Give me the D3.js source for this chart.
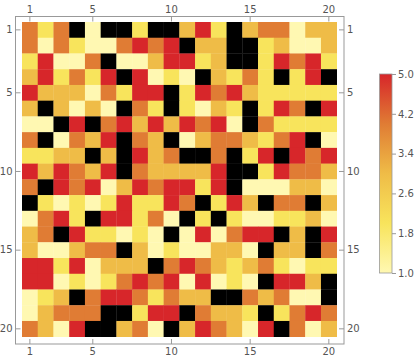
<!DOCTYPE html>
<html>
<head>
<meta charset="utf-8">
<script src="https://cdn.jsdelivr.net/npm/d3@7"></script>
<style>
  body { margin: 0; background: #fff; }
  .axis text { font-family: "DejaVu Sans", sans-serif; font-size: 10px; fill: #555; }
  .axis line { stroke: #999; }
  .axis path { display: none; }
</style>
</head>
<body>
<div id="chart"></div>
<script>
"use strict"

// matrix values, row by row (0 = outside the colour range, drawn black)
const rows = [
  [4,2,4,0,1,0,0,2,0,0,3,5,2,0,3,4,4,1,3,3],
  [4,1,4,2,1,1,4,5,4,5,0,3,3,0,0,2,3,1,1,3],
  [2,5,1,1,4,0,1,1,3,5,5,2,3,0,0,2,5,4,5,2],
  [3,5,2,4,2,5,0,5,1,2,1,0,3,2,4,2,0,2,5,0],
  [5,3,3,3,1,4,2,5,5,0,2,5,4,5,3,2,2,2,2,2],
  [3,0,3,1,3,1,0,4,2,0,2,1,3,2,0,2,5,4,0,5],
  [1,1,0,5,0,4,5,3,5,3,5,4,5,1,0,4,2,2,2,2],
  [4,0,1,4,3,5,0,4,3,0,1,3,4,4,3,2,4,5,0,1],
  [2,2,3,3,0,3,0,5,3,4,0,0,4,0,2,5,0,5,4,5],
  [5,3,5,4,3,5,0,4,3,3,3,3,5,0,0,2,5,4,4,3],
  [4,0,5,4,5,1,3,5,4,5,5,2,5,0,1,1,1,3,3,1],
  [0,2,1,2,1,2,5,2,2,5,4,0,2,5,3,0,4,4,0,3],
  [1,4,5,2,0,5,5,2,4,1,0,2,0,2,1,1,2,2,3,1],
  [3,4,0,5,2,2,1,2,1,0,1,5,1,4,5,5,0,3,0,5],
  [3,1,1,3,4,4,0,3,1,2,1,1,3,3,1,0,3,3,0,4],
  [5,5,2,5,1,3,3,3,0,4,5,4,3,2,3,4,2,1,2,2],
  [5,5,1,2,1,2,4,5,4,5,1,5,1,2,1,0,5,5,3,0],
  [1,2,3,0,4,5,5,4,2,4,3,3,0,0,4,3,4,1,1,0],
  [1,3,4,4,4,0,0,2,5,5,0,4,3,3,2,0,2,4,5,4],
  [4,3,1,5,0,0,3,4,1,0,3,5,4,3,1,5,0,4,1,3]
];
const indexTicks = [1, 5, 10, 15, 20];
const legendTicks = [1.0, 1.8, 2.6, 3.4, 4.2, 5.0];
const colorStops = [1, 2, 3, 4, 5];
const colorRange = ["#fff8b2", "#f8e45c", "#efbc47", "#e07c34", "#d7262a"];

const width = 420, height = 363;
const frame = {left: 15.5, top: 16.5, right: 344, bottom: 344};
const cells = {x0: 22, x1: 336.7, y0: 22, y1: 336.7};

const svg = d3.select("#chart").append("svg")
    .attr("width", width)
    .attr("height", height);

const idx = d3.range(1, 21);
const xScale = d3.scaleBand().domain(idx).range([cells.x0, cells.x1]);
const yScale = d3.scaleBand().domain(idx).range([cells.y0, cells.y1]);
const color = d3.scaleLinear().domain(colorStops).range(colorRange).clamp(true);

// cells
const flat = [];
rows.forEach((r, i) => r.forEach((v, j) => flat.push({row: i + 1, col: j + 1, v})));
svg.append("g").selectAll("rect")
    .data(flat)
    .join("rect")
    .attr("x", d => xScale(d.col))
    .attr("y", d => yScale(d.row))
    .attr("width", xScale.bandwidth() + 0.3)
    .attr("height", yScale.bandwidth() + 0.3)
    .attr("fill", d => d.v < 1 ? "#000" : color(d.v));

// frame
svg.append("rect")
    .attr("x", frame.left).attr("y", frame.top)
    .attr("width", frame.right - frame.left)
    .attr("height", frame.bottom - frame.top)
    .attr("fill", "none")
    .attr("stroke", "#999");

// axes, ticks pointing inward
svg.append("g").attr("class", "axis")
    .attr("transform", `translate(0,${frame.top})`)
    .call(d3.axisTop(xScale).tickValues(indexTicks).tickSizeInner(-5).tickSizeOuter(0).tickPadding(4));
svg.append("g").attr("class", "axis")
    .attr("transform", `translate(0,${frame.bottom})`)
    .call(d3.axisBottom(xScale).tickValues(indexTicks).tickSizeInner(-5).tickSizeOuter(0).tickPadding(4));
svg.append("g").attr("class", "axis")
    .attr("transform", `translate(${frame.left},0)`)
    .call(d3.axisLeft(yScale).tickValues(indexTicks).tickSizeInner(-5).tickSizeOuter(0).tickPadding(3));
svg.append("g").attr("class", "axis")
    .attr("transform", `translate(${frame.right},0)`)
    .call(d3.axisRight(yScale).tickValues(indexTicks).tickSizeInner(-5).tickSizeOuter(0).tickPadding(3));

// colour bar legend
const bar = {x: 379.5, w: 12.5, top: 74, bottom: 273};
const lScale = d3.scaleLinear().domain([1, 5]).range([bar.bottom, bar.top]);
const grad = svg.append("defs").append("linearGradient")
    .attr("id", "grad")
    .attr("x1", 0).attr("y1", 1).attr("x2", 0).attr("y2", 0);
grad.selectAll("stop")
    .data(colorStops)
    .join("stop")
    .attr("offset", d => (d - 1) / 4)
    .attr("stop-color", d => color(d));
svg.append("rect")
    .attr("x", bar.x).attr("y", bar.top)
    .attr("width", bar.w).attr("height", bar.bottom - bar.top)
    .attr("fill", "url(#grad)")
    .attr("stroke", "#999")
    .attr("stroke-width", 0.8);
svg.append("g").attr("class", "axis")
    .attr("transform", `translate(${bar.x + bar.w},0)`)
    .call(d3.axisRight(lScale).tickValues(legendTicks).tickFormat(d3.format(".1f")).tickSizeInner(4).tickSizeOuter(0).tickPadding(2));
</script>
</body>
</html>
